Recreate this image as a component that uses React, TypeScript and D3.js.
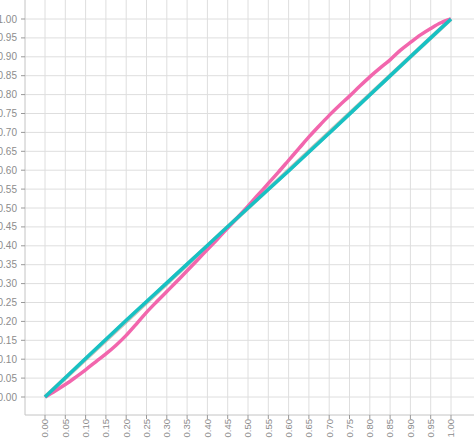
import React from 'react';
import * as d3 from 'd3';

// tick values for both axes
const ticks = d3.range(0, 21).map(i => +(i * 0.05).toFixed(2));

// pink series (S-shaped curve)
const pinkX = [0, 0.025, 0.05, 0.075, 0.1, 0.125, 0.15, 0.175, 0.2, 0.225, 0.25, 0.275, 0.3, 0.325, 0.35, 0.375, 0.4, 0.425, 0.45, 0.475, 0.5, 0.525, 0.55, 0.575, 0.6, 0.625, 0.65, 0.675, 0.7, 0.725, 0.75, 0.775, 0.8, 0.825, 0.85, 0.875, 0.9, 0.925, 0.95, 0.975, 1];
const pinkY = [0, 0.016, 0.033, 0.052, 0.072, 0.093, 0.114, 0.137, 0.163, 0.193, 0.224, 0.252, 0.279, 0.306, 0.334, 0.362, 0.39, 0.418, 0.447, 0.476, 0.505, 0.535, 0.565, 0.595, 0.626, 0.657, 0.688, 0.717, 0.745, 0.771, 0.796, 0.822, 0.847, 0.87, 0.892, 0.917, 0.938, 0.958, 0.975, 0.99, 1];

// teal series (almost on the diagonal)
const tealX = [0, 0.1, 0.2, 0.3, 0.4, 0.5, 0.6, 0.7, 0.8, 0.9, 1];
const tealY = [0, 0.102, 0.203, 0.302, 0.401, 0.5, 0.598, 0.698, 0.799, 0.9, 1];

// reference diagonal
const refX = [0, 1];
const refY = [0, 1];

const W = 474, H = 445;
const x = d3.scaleLinear().domain([0, 1]).range([45, 451]);
const y = d3.scaleLinear().domain([0, 1]).range([397, 19]);
const axisLeft = 25, axisBottom = 415;

const line = d3.line<[number, number]>().x(d => x(d[0])).y(d => y(d[1])).curve(d3.curveCatmullRom);
const zip = (a: number[], b: number[]) => a.map((v, i) => [v, b[i]] as [number, number]);

export default function App() {
  return (
    <svg width={W} height={H} style={{ position: 'absolute', left: 0, top: 0, background: '#fff' }}
      fontFamily="Arial, 'Liberation Sans', sans-serif">
      {/* grid */}
      {ticks.map(t => (
        <line key={'v' + t} x1={x(t)} x2={x(t)} y1={0} y2={axisBottom} stroke="#dedede" strokeWidth={1} />
      ))}
      {ticks.map(t => (
        <line key={'h' + t} x1={axisLeft} x2={W} y1={y(t)} y2={y(t)} stroke="#dedede" strokeWidth={1} />
      ))}
      {/* axes */}
      <line x1={axisLeft} x2={axisLeft} y1={0} y2={axisBottom} stroke="#c4c4c4" />
      <line x1={axisLeft} x2={W} y1={axisBottom} y2={axisBottom} stroke="#c4c4c4" />
      {ticks.map(t => (
        <g key={'yt' + t}>
          <line x1={axisLeft - 4} x2={axisLeft} y1={y(t)} y2={y(t)} stroke="#999" />
          <text x={17} y={y(t)} dy="0.35em" textAnchor="end" fontSize={10} fill="#8c8c8c">{t.toFixed(2)}</text>
        </g>
      ))}
      {ticks.map(t => (
        <g key={'xt' + t}>
          <line x1={x(t)} x2={x(t)} y1={axisBottom} y2={axisBottom + 4} stroke="#999" />
          <text transform={`translate(${x(t)},${axisBottom + 4}) rotate(-90)`} dy="0.35em" textAnchor="end"
            fontSize={9.5} fill="#8c8c8c">{t.toFixed(2)}</text>
        </g>
      ))}
      {/* series */}
      <path d={line(zip(refX, refY)) || ''} fill="none" stroke="#9a9a8a" strokeWidth={4} strokeOpacity={0.6} />
      <path d={line(zip(pinkX, pinkY)) || ''} fill="none" stroke="#f266ad" strokeWidth={3.5} strokeLinejoin="round" />
      <path d={line(zip(tealX, tealY)) || ''} fill="none" stroke="#17c1c3" strokeWidth={3.5} strokeLinejoin="round" />
    </svg>
  );
}
